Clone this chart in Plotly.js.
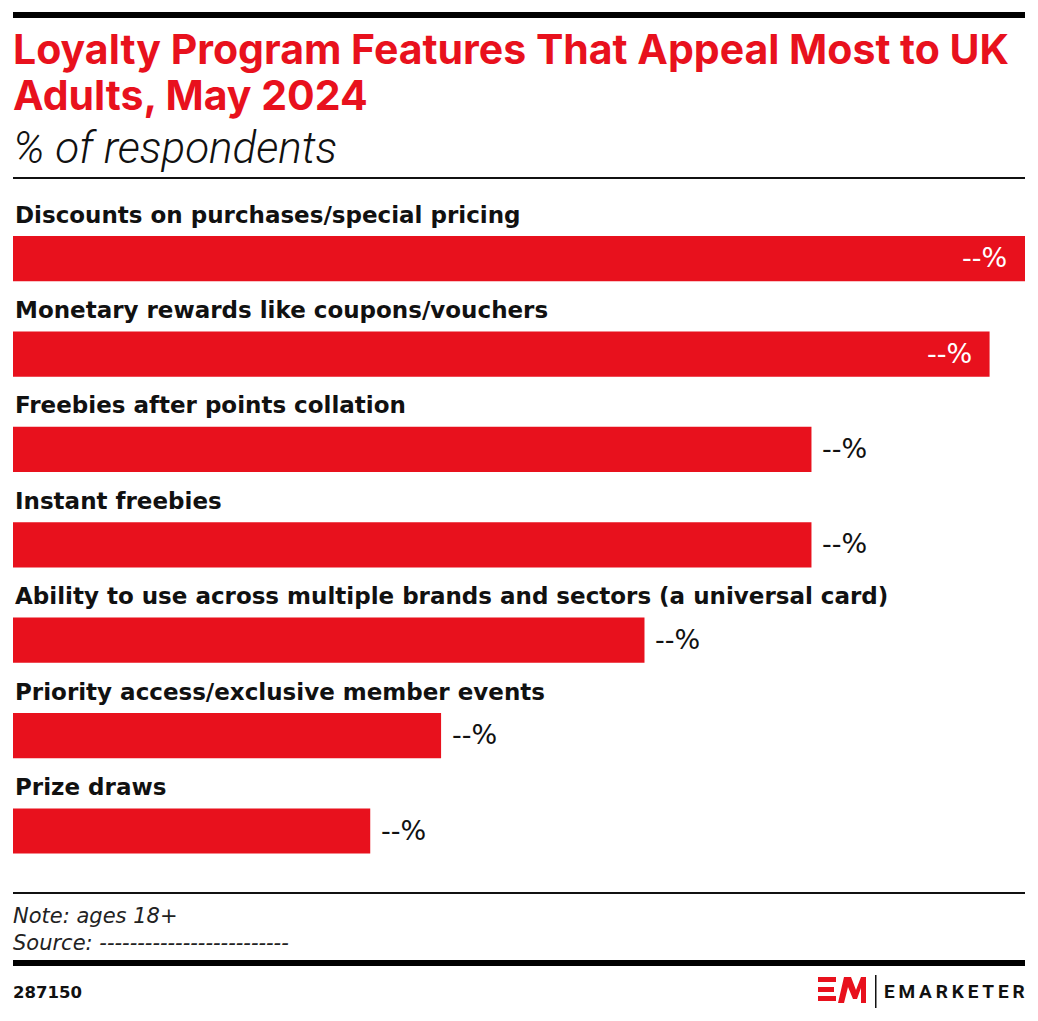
<!DOCTYPE html>
<html>
<head>
<meta charset="utf-8">
<script src="https://cdn.plot.ly/plotly-3.0.1.min.js"></script>
<style>
  html, body { margin: 0; padding: 0; background: #fff; }
  #chart { width: 1038px; height: 1021px; }
</style>
</head>
<body>
<div id="chart"></div>
<script>
// ---- data ----
const categories = [
  "Discounts on purchases/special pricing",
  "Monetary rewards like coupons/vouchers",
  "Freebies after points collation",
  "Instant freebies",
  "Ability to use across multiple brands and sectors (a universal card)",
  "Priority access/exclusive member events",
  "Prize draws"
];
const values = [100, 96.5, 78.9, 78.9, 62.4, 42.3, 35.3];
const valueLabels = ["--%", "--%", "--%", "--%", "--%", "--%", "--%"];

const titleLines = ["Loyalty Program Features That Appeal Most to UK", "Adults, May 2024"];
const subtitleText = "% of respondents";
const noteText = "Note: ages 18+";
const sourceText = "Source: -------------------------";
const chartId = "287150";
const brandText = "EMARKETER";

// ---- geometry helpers ----
const W = 1038, H = 1021;
const M = {l: 13, r: 13, t: 211, b: 131};
const plotW = W - M.l - M.r, plotH = H - M.t - M.b;
const px = x => (x - M.l) / plotW;
const py = y => (H - M.b - y) / plotH;

const RED = "#E8111D";
const TITLE_FONT = "Inter, Roboto, sans-serif";
const WIDE = "'DejaVu Sans', Verdana, sans-serif";
const ROBOTO = "Roboto, 'Liberation Sans', Arial, sans-serif";
const maxV = Math.max(...values);

const annotations = [];
// category labels above each bar
categories.forEach((c, i) => {
  annotations.push({
    xref: "paper", yref: "y", x: 0, y: c, xanchor: "left", yanchor: "middle",
    yshift: 44, showarrow: false, text: "<b>" + c + "</b>",
    font: {family: WIDE, size: 23, color: "#111"}
  });
});
// value labels
categories.forEach((c, i) => {
  const inside = values[i] / maxV > 0.9;
  annotations.push({
    xref: "x", yref: "y", x: values[i], y: c,
    xanchor: inside ? "right" : "left", yanchor: "middle",
    xshift: inside ? -16 : 9, yshift: 1, showarrow: false, text: valueLabels[i],
    font: {family: WIDE, size: 27, color: inside ? "#fff" : "#111"}
  });
});
// title lines
titleLines.forEach((t, i) => {
  annotations.push({
    xref: "paper", yref: "paper", x: px(11), y: py(49 + 46 * i), xanchor: "left", yanchor: "middle",
    showarrow: false, text: "<b>" + t + "</b>", font: {family: TITLE_FONT, size: 41, color: RED}
  });
});
annotations.push(
  {xref: "paper", yref: "paper", x: px(11), y: py(148), xanchor: "left", yanchor: "middle",
   showarrow: false, text: subtitleText, font: {family: ROBOTO, size: 44, color: "#111", style: "italic", weight: 300}},
  {xref: "paper", yref: "paper", x: px(11), y: py(916), xanchor: "left", yanchor: "middle",
   showarrow: false, text: noteText, font: {family: WIDE, size: 21, color: "#222", style: "italic"}},
  {xref: "paper", yref: "paper", x: px(11), y: py(943), xanchor: "left", yanchor: "middle",
   showarrow: false, text: sourceText, font: {family: WIDE, size: 21, color: "#222", style: "italic"}},
  {xref: "paper", yref: "paper", x: px(11), y: py(993), xanchor: "left", yanchor: "middle",
   showarrow: false, text: "<b>" + chartId + "</b>", font: {family: WIDE, size: 16.5, color: "#111"}},
  {xref: "paper", yref: "paper", x: px(1027), y: py(992), xanchor: "right", yanchor: "middle",
   showarrow: false, text: "<b>" + brandText.split("").join("\u2009") + "</b>", font: {family: ROBOTO, size: 19, color: "#111"}}
);

const rect = (x0, y0, x1, y1, color) => ({
  type: "rect", xref: "paper", yref: "paper", x0: px(x0), x1: px(x1), y0: py(y1), y1: py(y0),
  fillcolor: color, line: {width: 0}, layer: "above"
});
const path = (pts, color) => ({
  type: "path", xref: "paper", yref: "paper",
  path: "M " + pts.map(p => px(p[0]) + "," + py(p[1])).join(" L ") + " Z",
  fillcolor: color, line: {width: 0}, layer: "above"
});

const shapes = [
  rect(13, 12, 1025, 18, "#000"),
  rect(13, 177, 1025, 179, "#111"),
  rect(13, 892, 1025, 894, "#111"),
  rect(13, 960, 1025, 966, "#000"),
  // logo E
  rect(818, 977, 836, 982, RED),
  rect(818, 987, 834, 992, RED),
  rect(818, 996, 836, 1001, RED),
  // logo M
  path([[838,1003],[844,977],[851,977],[856,990],[861,977],[866,977],[866,1003],[861,1003],[861,988],[857,999],[853,999],[848,987],[844,1003]], RED),
  // divider
  rect(875, 975, 876.5, 1008, "#111")
];

const trace = {
  type: "bar", orientation: "h",
  x: values, y: categories,
  marker: {color: RED, line: {width: 0}},
  hoverinfo: "skip"
};

const layout = {
  width: W, height: H,
  margin: M,
  paper_bgcolor: "#fff", plot_bgcolor: "#fff",
  showlegend: false,
  bargap: 0.526,
  xaxis: {range: [0, maxV], visible: false, fixedrange: true},
  yaxis: {type: "category", autorange: "reversed", visible: false, fixedrange: true},
  annotations, shapes
};

Plotly.newPlot("chart", [trace], layout, {displayModeBar: false, staticPlot: true});
</script>
</body>
</html>
